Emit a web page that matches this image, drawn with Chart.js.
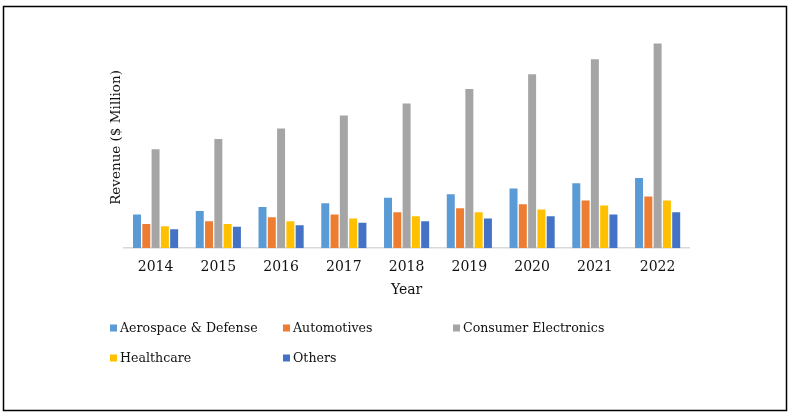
<!DOCTYPE html>
<html>
<head>
<meta charset="utf-8">
<script src="https://cdn.jsdelivr.net/npm/chart.js@4"></script>
<style>
  html, body { margin: 0; padding: 0; background: #ffffff; }
  #wrap { position: relative; width: 793px; height: 416px; }
</style>
</head>
<body>
<div id="wrap"><canvas id="chart" width="793" height="416"></canvas></div>
<script>
// values (no axis scale shown, units are relative)
const years = ["2014", "2015", "2016", "2017", "2018", "2019", "2020", "2021", "2022"];
const aerospace = [33.4, 37, 41, 44.7, 50, 53.7, 59.4, 64.4, 69.7];
const automotives = [24, 26.7, 30.7, 33.4, 35.7, 39.7, 43.7, 47.4, 51.4];
const consumerElectronics = [98.4, 108.4, 119, 131.7, 143.7, 158, 172.7, 187.7, 203.4];
const healthcare = [21.7, 24, 26.7, 29.4, 31.7, 35.7, 38.4, 42.4, 47.4];
const others = [18.7, 21.4, 22.7, 25.4, 26.7, 29.4, 31.7, 33.4, 35.7];

const FONT = "'DejaVu Serif', serif";
const TEXT = "#111111";

// legend laid out in a 3-column grid under the plot, like the original
const legendGrid = {
  id: "legendGrid",
  afterDraw(chart) {
    const ctx = chart.ctx;
    const cols = [110, 283, 453];
    const rows = [328, 358];
    ctx.save();
    ctx.font = "12.6px " + FONT;
    ctx.textBaseline = "middle";
    chart.data.datasets.forEach((ds, i) => {
      const x = cols[i % 3];
      const y = rows[Math.floor(i / 3)];
      ctx.fillStyle = ds.backgroundColor;
      ctx.fillRect(x, y - 3.5, 7, 7);
      ctx.fillStyle = TEXT;
      ctx.fillText(ds.label, x + 10, y + 0.5);
    });
    ctx.restore();
  }
};

const frame = {
  id: "frame",
  beforeDraw(chart) {
    const ctx = chart.ctx;
    ctx.save();
    ctx.fillStyle = "#ffffff";
    ctx.fillRect(0, 0, chart.width, chart.height);
    ctx.strokeStyle = "#000000";
    ctx.lineWidth = 1.5;
    ctx.strokeRect(3.5, 6.5, 783, 404);
    ctx.restore();
  }
};

function bars(label, data, color) {
  return {
    label: label,
    data: data,
    backgroundColor: color,
    barPercentage: 0.86,
    categoryPercentage: 0.74
  };
}

new Chart(document.getElementById("chart").getContext("2d"), {
  type: "bar",
  data: {
    labels: years,
    datasets: [
      bars("Aerospace & Defense", aerospace, "#5b9bd5"),
      bars("Automotives", automotives, "#ed7d31"),
      bars("Consumer Electronics", consumerElectronics, "#a5a5a5"),
      bars("Healthcare", healthcare, "#ffc000"),
      bars("Others", others, "#4472c4")
    ]
  },
  options: {
    responsive: false,
    animation: false,
    devicePixelRatio: 1,
    layout: {
      padding: { left: 108, right: 104, top: 26.7, bottom: 117.6 }
    },
    plugins: {
      legend: { display: false },
      tooltip: { enabled: false }
    },
    scales: {
      x: {
        grid: { display: false, drawTicks: false },
        border: { display: true, color: "#d9d9d9", width: 1.5 },
        ticks: {
          padding: 10.8,
          color: TEXT,
          font: { family: FONT, size: 14 }
        },
        title: {
          display: true,
          text: "Year",
          color: TEXT,
          padding: { top: -5, bottom: 0 },
          font: { family: FONT, size: 14 }
        }
      },
      y: {
        min: 0,
        max: 220,
        grid: { display: false, drawTicks: false },
        border: { display: false },
        ticks: { display: false },
        title: {
          display: true,
          text: "Revenue ($ Million)",
          color: TEXT,
          padding: { top: 0, bottom: 0 },
          font: { family: FONT, size: 13.5 }
        }
      }
    }
  },
  plugins: [frame, legendGrid]
});
</script>
</body>
</html>
